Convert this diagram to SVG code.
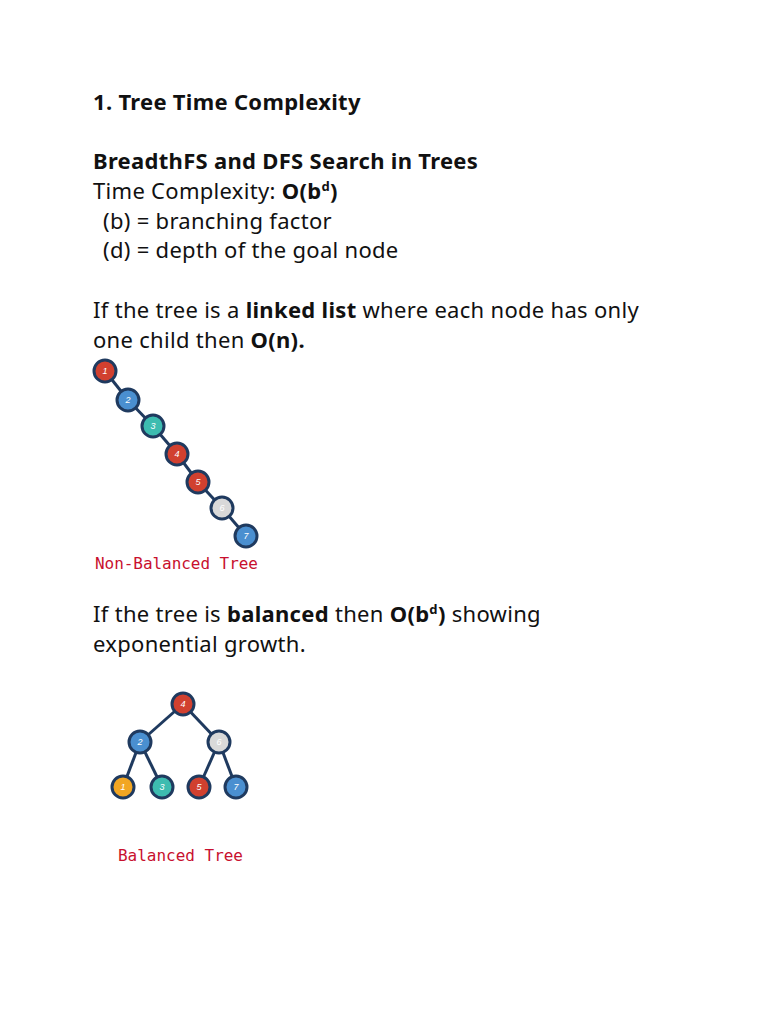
<svg xmlns="http://www.w3.org/2000/svg" width="768" height="1024" viewBox="0 0 768 1024">
<style>
.t{font-family:"Noto Sans","Liberation Sans",sans-serif;font-size:22px;letter-spacing:0.3px;fill:#111}
.b{font-weight:bold}
.lbl{font-family:"DejaVu Sans Mono","Liberation Mono",monospace;font-size:16px;fill:#c8102e}
.n{stroke:#1f3a5f;stroke-width:3}
.nt{font-family:"Liberation Sans",sans-serif;font-size:9px;fill:#fff;text-anchor:middle;font-style:italic}
.e{stroke:#1f3a5f;stroke-width:3}
.red{fill:#d1402f}.blu{fill:#4a8fd0}.tea{fill:#3dbcb0}.gry{fill:#d9d9d9}.org{fill:#f2a623}
</style>
<rect width="768" height="1024" fill="#fff"/>
<text class="t b" x="93" y="110">1. Tree Time Complexity</text>
<text class="t b" x="93" y="169">BreadthFS and DFS Search in Trees</text>
<text class="t" x="93" y="199">Time Complexity: <tspan class="b">O(b<tspan font-size="13" dy="-8">d</tspan><tspan dy="8">)</tspan></tspan></text>
<text class="t" x="103" y="229">(b) = branching factor</text>
<text class="t" x="103" y="258">(d) = depth of the goal node</text>
<text class="t" x="93" y="318">If the tree is a <tspan class="b">linked list</tspan> where each node has only</text>
<text class="t" x="93" y="348">one child then <tspan class="b">O(n).</tspan></text>
<g id="connectors1">
<line class="e" x1="105" y1="371" x2="128" y2="400"/>
<line class="e" x1="128" y1="400" x2="153" y2="426"/>
<line class="e" x1="153" y1="426" x2="177" y2="454"/>
<line class="e" x1="177" y1="454" x2="198" y2="482"/>
<line class="e" x1="198" y1="482" x2="222" y2="508"/>
<line class="e" x1="222" y1="508" x2="246" y2="536"/>
</g>
<g id="u1"><circle class="n red" cx="105" cy="371" r="11"/><text class="nt" x="105" y="374">1</text></g>
<g id="u2"><circle class="n blu" cx="128" cy="400" r="11"/><text class="nt" x="128" y="403">2</text></g>
<g id="u3"><circle class="n tea" cx="153" cy="426" r="11"/><text class="nt" x="153" y="429">3</text></g>
<g id="u4"><circle class="n red" cx="177" cy="454" r="11"/><text class="nt" x="177" y="457">4</text></g>
<g id="u5"><circle class="n red" cx="198" cy="482" r="11"/><text class="nt" x="198" y="485">5</text></g>
<g id="u6"><circle class="n gry" cx="222" cy="508" r="11"/><text class="nt" x="222" y="511">6</text></g>
<g id="u7"><circle class="n blu" cx="246" cy="536" r="11"/><text class="nt" x="246" y="539">7</text></g>
<text class="lbl" x="95" y="569" textLength="163">Non-Balanced Tree</text>
<text class="t" x="93" y="622">If the tree is <tspan class="b">balanced</tspan> then <tspan class="b">O(b<tspan font-size="13" dy="-8">d</tspan><tspan dy="8">)</tspan></tspan> showing</text>
<text class="t" x="93" y="652">exponential growth.</text>
<g id="connectors2">
<line class="e" x1="183" y1="704" x2="140" y2="742"/>
<line class="e" x1="183" y1="704" x2="219" y2="742"/>
<line class="e" x1="140" y1="742" x2="123" y2="787"/>
<line class="e" x1="140" y1="742" x2="162" y2="787"/>
<line class="e" x1="219" y1="742" x2="199" y2="787"/>
<line class="e" x1="219" y1="742" x2="236" y2="787"/>
</g>
<g id="b4"><circle class="n red" cx="183" cy="704" r="11"/><text class="nt" x="183" y="707">4</text></g>
<g id="b2"><circle class="n blu" cx="140" cy="742" r="11"/><text class="nt" x="140" y="745">2</text></g>
<g id="b6"><circle class="n gry" cx="219" cy="742" r="11"/><text class="nt" x="219" y="745">6</text></g>
<g id="b1"><circle class="n org" cx="123" cy="787" r="11"/><text class="nt" x="123" y="790">1</text></g>
<g id="b3"><circle class="n tea" cx="162" cy="787" r="11"/><text class="nt" x="162" y="790">3</text></g>
<g id="b5"><circle class="n red" cx="199" cy="787" r="11"/><text class="nt" x="199" y="790">5</text></g>
<g id="b7"><circle class="n blu" cx="236" cy="787" r="11"/><text class="nt" x="236" y="790">7</text></g>
<text class="lbl" x="118" y="861" textLength="125">Balanced Tree</text>
</svg>
